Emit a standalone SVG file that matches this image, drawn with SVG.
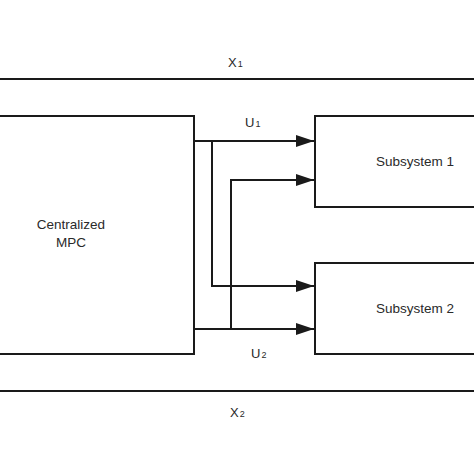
<svg xmlns="http://www.w3.org/2000/svg" width="474" height="474" viewBox="0 0 474 474">
<style>
.box{fill:#fff;stroke:#1a1a1a;stroke-width:2}
.ln{fill:none;stroke:#1a1a1a;stroke-width:2}
text{font-family:"Liberation Sans",Arial,sans-serif;font-size:13.5px;fill:#2a2a2a}
.lbl{font-size:13px}
.sub{font-size:9px}
</style>
<defs>
<marker id="ah" markerWidth="10" markerHeight="8" refX="10" refY="4" orient="auto" markerUnits="userSpaceOnUse" viewBox="0 0 10 8">
<path d="M0,0 L10,4 L0,8 Z" fill="#1a1a1a"/>
</marker>
<marker id="ah2" viewBox="0 0 18 12" refX="18" refY="6" markerWidth="18" markerHeight="12" orient="auto" markerUnits="userSpaceOnUse">
<path d="M0,0 L18,6 L0,12 Z" fill="#1a1a1a"/>
</marker>
</defs>
<rect width="474" height="474" fill="#fff"/>
<g id="mpc">
<rect class="box" x="-5" y="116" width="199" height="238"/>
<text x="71" y="229" text-anchor="middle">Centralized</text>
<text x="71" y="247" text-anchor="middle">MPC</text>
</g>
<g id="sub1">
<rect class="box" x="315" y="116" width="170" height="91"/>
<text x="415" y="166" text-anchor="middle">Subsystem 1</text>
</g>
<g id="sub2">
<rect class="box" x="315" y="263" width="170" height="91"/>
<text x="415" y="313" text-anchor="middle">Subsystem 2</text>
</g>
<g id="connectors">
<line class="ln" x1="0" y1="79" x2="474" y2="79"/>
<line class="ln" x1="0" y1="391" x2="474" y2="391"/>
<line class="ln" x1="194" y1="141" x2="314" y2="141" marker-end="url(#ah2)"/>
<polyline class="ln" points="212,141 212,286 314,286" marker-end="url(#ah2)"/>
<polyline class="ln" points="231,329 231,180 314,180" marker-end="url(#ah2)"/>
<line class="ln" x1="194" y1="329" x2="314" y2="329" marker-end="url(#ah2)"/>
</g>
<g id="labels">
<text class="lbl" x="228" y="67">X<tspan class="sub" dx="1">1</tspan></text>
<text class="lbl" x="230" y="417">X<tspan class="sub" dx="1">2</tspan></text>
<text class="lbl" x="245" y="127">U<tspan class="sub" dx="1">1</tspan></text>
<text class="lbl" x="251" y="358">U<tspan class="sub" dx="1">2</tspan></text>
</g>
</svg>
